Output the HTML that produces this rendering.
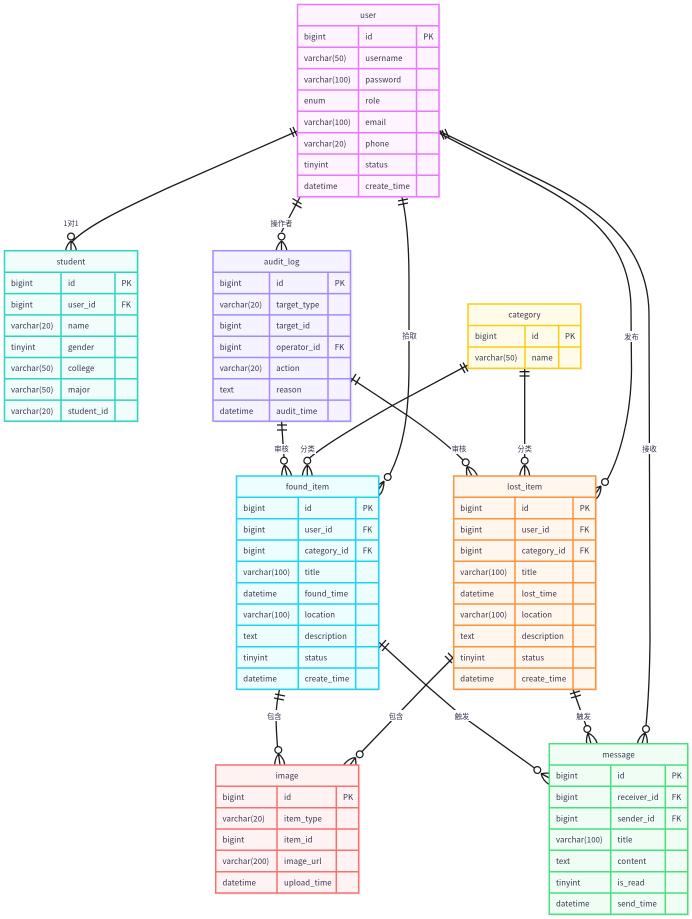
<!DOCTYPE html>
<html><head><meta charset="utf-8"><style>
html,body{margin:0;padding:0;background:#fff;width:692px;height:919px;overflow:hidden}
svg{display:block;filter:blur(.25px)}
text{font-family:"Noto Sans CJK SC","Liberation Sans",sans-serif;font-size:7.8px;fill:#38334d;letter-spacing:.1px}
.c{text-anchor:middle}
.t{font-size:7.3px;letter-spacing:0}
.e{fill:none;stroke:#1c1c1c;stroke-width:1.3}
.o{fill:#fff;stroke:#1c1c1c;stroke-width:1.25}
.b{fill:#fff}
.u{fill:#fdf4ff;stroke:#e879f9;stroke-width:1.5}
.s{fill:#f0fdfa;stroke:#2dd4bf;stroke-width:1.5}
.a{fill:#f5f3ff;stroke:#a78bfa;stroke-width:1.5}
.k{fill:#fefce8;stroke:#facc15;stroke-width:1.5}
.f{fill:#ecfeff;stroke:#22d3ee;stroke-width:1.5}
.l{fill:#fff7ed;stroke:#fb923c;stroke-width:1.5}
.i{fill:#fef2f2;stroke:#f87171;stroke-width:1.5}
.m{fill:#f0fdf4;stroke:#4ade80;stroke-width:1.5}
.sh{fill:#000;opacity:.05}
</style></head><body>
<svg width="692" height="919" viewBox="0 0 692 919" xmlns="http://www.w3.org/2000/svg">
<!-- shadows -->
<rect class="sh" x="299.500" y="6.500" width="141.500" height="192.500"/>
<rect class="sh" x="6.500" y="252.700" width="133" height="170.500"/>
<rect class="sh" x="215" y="252.700" width="137.500" height="170.500"/>
<rect class="sh" x="470" y="306" width="112.500" height="64.300"/>
<rect class="sh" x="238.500" y="478" width="142" height="213.300"/>
<rect class="sh" x="455.700" y="478" width="142" height="213.300"/>
<rect class="sh" x="217.700" y="767" width="143" height="128"/>
<rect class="sh" x="551.300" y="745.700" width="138.400" height="170.600"/>

<!-- edges -->
<path class="e" d="M297.500,131 L170,187 C120,210 85,227 71,243"/>
<path class="e" d="M300,197 L281.500,232"/>
<path class="e" d="M402,197 C406,215 409,240 409,280 L409,365 C409,420 402,450 390,474"/>
<path class="e" d="M439,133 L520,175 C585,208 631,240 631,310 L631.500,370 C631,420 618,460 607.500,479"/>
<path class="e" d="M439,131 L530,175 C600,208 649,245 649,315 L650,640 Q649.500,690 646,725.500"/>
<path class="e" d="M281.500,421 L284,457.500"/>
<path class="e" d="M468,365 L392,405.700 C350,430 325,445 309.500,458"/>
<path class="e" d="M350.500,378 L406.700,415 C430,431 450,447 463,460"/>
<path class="e" d="M524.700,368 V457"/>
<path class="e" d="M279.500,689.500 C276,705 275,715 277.500,746.500"/>
<path class="e" d="M453.700,657 L426,685 L362,751.500"/>
<path class="e" d="M378.700,642 L426,685 L462,716 L534.500,768"/>
<path class="e" d="M573,689.500 L586,725.500"/>

<!-- tick marks -->
<path class="e" d="M290,128 L294,137 M293,127 L297,136"/>
<path class="e" d="M442,130 L446,139 M445,129 L449,138 M440,130.500 L444,139.500"/>
<path class="e" d="M292.500,198.500 L301.500,204 M292.500,203 L301.500,208"/>
<path class="e" d="M398,201 L408,199 M398,205 L408,203"/>
<path class="e" d="M277,425 H287 M277,430 H287"/>
<path class="e" d="M460,364 L465,373 M463,362.500 L468,371.500"/>
<path class="e" d="M519.500,371.700 H529.500 M519.500,376 H529.500"/>
<path class="e" d="M351,382 L356,374 M355,385 L360,377"/>
<path class="e" d="M275,694 L285,696 M274,698 L284,700"/>
<path class="e" d="M445,656 L452,663 M448,653 L455,660"/>
<path class="e" d="M379,648 L386,640 M382,651 L389,643"/>
<path class="e" d="M570,694 L580,691 M571,698 L581,695"/>

<!-- crow's feet -->
<path class="e" d="M71,241 Q67,244 65.500,250.500 M71,241 V250.500 M71,241 Q75,244 76.500,250.500"/>
<path class="e" d="M281.500,241 Q277.500,244 276,250.500 M281.500,241 V250.500 M281.500,241 Q285.500,244 287,250.500"/>
<path class="e" d="M284.500,465 Q282,469 281.700,476 M284.500,465 L287,476 M284.500,465 Q290,469 291.700,476"/>
<path class="e" d="M307.300,465 Q303,469 302.300,476 M307.300,465 V476 M307.300,465 Q311.500,469 312.300,476"/>
<path class="e" d="M524.700,465 Q520.500,469 519.700,476 M524.700,465 V476 M524.700,465 Q529,469 529.700,476"/>
<path class="e" d="M467,466.500 Q466,471 467,476 M467,466.500 L472,476 M467,466.500 Q474,468 477.500,476"/>
<path class="e" d="M384,481 L379,484.500 M384,481 L379,489 M384,481 Q384,491 379,495.500"/>
<path class="e" d="M601,486 L596,488 M601,486 L596,493 M601,486 Q601,495 596,499"/>
<path class="e" d="M278.500,754 Q275,758 274.700,765 M278.500,754 L280,765 M278.500,754 Q284,758 284.700,765"/>
<path class="e" d="M355.500,757.500 Q349,758 343.500,765 M355.500,757.500 L350,765 M355.500,757.500 L356,765"/>
<path class="e" d="M541,773.500 L549.300,773 M541,773.500 L549.300,778 M541,773.500 Q543,781 549.300,784.500"/>
<path class="e" d="M588,733 Q586,738 586.700,743.700 M588,733 L591,743.700 M588,733 Q595,736 597.300,743.700"/>
<path class="e" d="M645,733 Q639,736 637.300,743.700 M645,733 L642,743.700 M645,733 Q647.500,737 647.300,743.700"/>
<circle class="o" cx="71" cy="236.500" r="3.400"/>
<circle class="o" cx="281.500" cy="236.500" r="3.400"/>
<circle class="o" cx="284" cy="460.700" r="3.400"/>
<circle class="o" cx="307.300" cy="460.700" r="3.400"/>
<circle class="o" cx="465.700" cy="462.300" r="3.400"/>
<circle class="o" cx="524.700" cy="460.700" r="3.400"/>
<circle class="o" cx="387.700" cy="477" r="3.400"/>
<circle class="o" cx="605" cy="482" r="3.400"/>
<circle class="o" cx="278.300" cy="750" r="3.400"/>
<circle class="o" cx="359.700" cy="754.300" r="3.400"/>
<circle class="o" cx="537.300" cy="770" r="3.400"/>
<circle class="o" cx="587.300" cy="729" r="3.400"/>
<circle class="o" cx="646" cy="729" r="3.400"/>

<!-- edge labels -->
<rect class="b" x="60" y="218" width="22" height="10"/><text class="c t" x="71" y="226">1对1</text>
<rect class="b" x="270" y="218" width="23" height="10"/><text class="c t" x="281.500" y="226">操作者</text>
<rect class="b" x="401" y="330" width="17" height="11"/><text class="c t" x="409.500" y="338.500">拾取</text>
<rect class="b" x="623" y="331" width="17" height="11"/><text class="c t" x="631.500" y="339.500">发布</text>
<rect class="b" x="641" y="443" width="17" height="11"/><text class="c t" x="649.500" y="451.500">接收</text>
<rect class="b" x="274" y="444" width="16" height="10"/><text class="c t" x="281.500" y="451.500">审核</text>
<rect class="b" x="300" y="444" width="16" height="10"/><text class="c t" x="307.500" y="451.500">分类</text>
<rect class="b" x="451" y="443" width="17" height="11"/><text class="c t" x="459" y="451.500">审核</text>
<rect class="b" x="517" y="444" width="16" height="10"/><text class="c t" x="524.700" y="451.500">分类</text>
<rect class="b" x="266" y="710" width="17" height="11"/><text class="c t" x="274.300" y="719">包含</text>
<rect class="b" x="388" y="710" width="17" height="11"/><text class="c t" x="396" y="719">包含</text>
<rect class="b" x="454" y="710" width="17" height="11"/><text class="c t" x="462" y="719">触发</text>
<rect class="b" x="575" y="710" width="17" height="11"/><text class="c t" x="583.500" y="719">触发</text>

<!-- user -->
<g class="u"><rect x="297.500" y="4.500" width="141.500" height="192.300"/><path d="M297.500,25.700H439M297.500,47.200H439M297.500,68.600H439M297.500,90H439M297.500,111.300H439M297.500,132.700H439M297.500,154H439M297.500,175.300H439M358.500,25.700V196.800M416.500,25.700V196.800"/></g>
<text class="c" x="368.200" y="18">user</text>
<text x="304" y="39.500">bigint</text><text x="365.300" y="39.500">id</text><text x="423.300" y="39.500">PK</text>
<text x="304" y="60.900">varchar(50)</text><text x="365.300" y="60.900">username</text>
<text x="304" y="82.300">varchar(100)</text><text x="365.300" y="82.300">password</text>
<text x="304" y="103.600">enum</text><text x="365.300" y="103.600">role</text>
<text x="304" y="125">varchar(100)</text><text x="365.300" y="125">email</text>
<text x="304" y="146.300">varchar(20)</text><text x="365.300" y="146.300">phone</text>
<text x="304" y="167.600">tinyint</text><text x="365.300" y="167.600">status</text>
<text x="304" y="189">datetime</text><text x="365.300" y="189">create_time</text>

<!-- student -->
<g class="s"><rect x="4.500" y="250.700" width="133" height="170.500"/><path d="M4.500,272.300H137.500M4.500,293.600H137.500M4.500,314.900H137.500M4.500,336.200H137.500M4.500,357.500H137.500M4.500,378.800H137.500M4.500,400.100H137.500M61,272.300V421.200M115,272.300V421.200"/></g>
<text class="c" x="71" y="264.500">student</text>
<text x="11" y="286">bigint</text><text x="68" y="286">id</text><text x="121.500" y="286">PK</text>
<text x="11" y="307.300">bigint</text><text x="68" y="307.300">user_id</text><text x="121.500" y="307.300">FK</text>
<text x="11" y="328.600">varchar(20)</text><text x="68" y="328.600">name</text>
<text x="11" y="349.900">tinyint</text><text x="68" y="349.900">gender</text>
<text x="11" y="371.200">varchar(50)</text><text x="68" y="371.200">college</text>
<text x="11" y="392.500">varchar(50)</text><text x="68" y="392.500">major</text>
<text x="11" y="413.800">varchar(20)</text><text x="68" y="413.800">student_id</text>

<!-- audit_log -->
<g class="a"><rect x="213" y="250.700" width="137.500" height="170.500"/><path d="M213,272.300H350.500M213,293.600H350.500M213,314.900H350.500M213,336.200H350.500M213,357.500H350.500M213,378.800H350.500M213,400.100H350.500M269.500,272.300V421.200M328,272.300V421.200"/></g>
<text class="c" x="281.700" y="264.500">audit_log</text>
<text x="219.700" y="286">bigint</text><text x="276.300" y="286">id</text><text x="334.700" y="286">PK</text>
<text x="219.700" y="307.300">varchar(20)</text><text x="276.300" y="307.300">target_type</text>
<text x="219.700" y="328.600">bigint</text><text x="276.300" y="328.600">target_id</text>
<text x="219.700" y="349.900">bigint</text><text x="276.300" y="349.900">operator_id</text><text x="334.700" y="349.900">FK</text>
<text x="219.700" y="371.200">varchar(20)</text><text x="276.300" y="371.200">action</text>
<text x="219.700" y="392.500">text</text><text x="276.300" y="392.500">reason</text>
<text x="219.700" y="413.800">datetime</text><text x="276.300" y="413.800">audit_time</text>

<!-- category -->
<g class="k"><rect x="468" y="304" width="112.700" height="64.300"/><path d="M468,325.500H580.700M468,347H580.700M525,325.500V368.300M558.700,325.500V368.300"/></g>
<text class="c" x="524.500" y="317.700">category</text>
<text x="475" y="339">bigint</text><text x="531.700" y="339">id</text><text x="565" y="339">PK</text>
<text x="475" y="360.500">varchar(50)</text><text x="531.700" y="360.500">name</text>

<!-- found_item -->
<g class="f"><rect x="236.500" y="476" width="142.200" height="213.300"/><path d="M236.500,497.300H378.700M236.500,518.700H378.700M236.500,540H378.700M236.500,561.300H378.700M236.500,582.700H378.700M236.500,604H378.700M236.500,625.300H378.700M236.500,646.700H378.700M236.500,668H378.700M298.300,497.300V689.300M355.700,497.300V689.300"/></g>
<text class="c" x="307.500" y="489.700">found_item</text>
<text x="243.300" y="511">bigint</text><text x="304.700" y="511">id</text><text x="362.700" y="511">PK</text>
<text x="243.300" y="532.400">bigint</text><text x="304.700" y="532.400">user_id</text><text x="362.700" y="532.400">FK</text>
<text x="243.300" y="553.700">bigint</text><text x="304.700" y="553.700">category_id</text><text x="362.700" y="553.700">FK</text>
<text x="243.300" y="575">varchar(100)</text><text x="304.700" y="575">title</text>
<text x="243.300" y="596.400">datetime</text><text x="304.700" y="596.400">found_time</text>
<text x="243.300" y="617.700">varchar(100)</text><text x="304.700" y="617.700">location</text>
<text x="243.300" y="639">text</text><text x="304.700" y="639">description</text>
<text x="243.300" y="660.400">tinyint</text><text x="304.700" y="660.400">status</text>
<text x="243.300" y="681.700">datetime</text><text x="304.700" y="681.700">create_time</text>

<!-- lost_item -->
<g class="l"><rect x="453.700" y="476" width="142" height="213.300"/><path d="M453.700,497.300H595.700M453.700,518.700H595.700M453.700,540H595.700M453.700,561.300H595.700M453.700,582.700H595.700M453.700,604H595.700M453.700,625.300H595.700M453.700,646.700H595.700M453.700,668H595.700M515,497.300V689.300M573,497.300V689.300"/></g>
<text class="c" x="524.700" y="489.700">lost_item</text>
<text x="460.300" y="511">bigint</text><text x="521.700" y="511">id</text><text x="579.700" y="511">PK</text>
<text x="460.300" y="532.400">bigint</text><text x="521.700" y="532.400">user_id</text><text x="579.700" y="532.400">FK</text>
<text x="460.300" y="553.700">bigint</text><text x="521.700" y="553.700">category_id</text><text x="579.700" y="553.700">FK</text>
<text x="460.300" y="575">varchar(100)</text><text x="521.700" y="575">title</text>
<text x="460.300" y="596.400">datetime</text><text x="521.700" y="596.400">lost_time</text>
<text x="460.300" y="617.700">varchar(100)</text><text x="521.700" y="617.700">location</text>
<text x="460.300" y="639">text</text><text x="521.700" y="639">description</text>
<text x="460.300" y="660.400">tinyint</text><text x="521.700" y="660.400">status</text>
<text x="460.300" y="681.700">datetime</text><text x="521.700" y="681.700">create_time</text>

<!-- image -->
<g class="i"><rect x="215.700" y="765" width="143" height="128"/><path d="M215.700,786.300H358.700M215.700,807.700H358.700M215.700,829H358.700M215.700,850.300H358.700M215.700,871.700H358.700M277,786.300V893M336.300,786.300V893"/></g>
<text class="c" x="287" y="778.700">image</text>
<text x="222.500" y="800">bigint</text><text x="284" y="800">id</text><text x="343" y="800">PK</text>
<text x="222.500" y="821.400">varchar(20)</text><text x="284" y="821.400">item_type</text>
<text x="222.500" y="842.700">bigint</text><text x="284" y="842.700">item_id</text>
<text x="222.500" y="864">varchar(200)</text><text x="284" y="864">image_url</text>
<text x="222.500" y="885.400">datetime</text><text x="284" y="885.400">upload_time</text>

<!-- message -->
<g class="m"><rect x="549.300" y="743.700" width="138.400" height="170.600"/><path d="M549.300,765H687.700M549.300,786.300H687.700M549.300,807.700H687.700M549.300,829H687.700M549.300,850.300H687.700M549.300,871.700H687.700M549.300,893H687.700M610.700,765V914.300M665.300,765V914.300"/></g>
<text class="c" x="618.500" y="757.400">message</text>
<text x="556" y="778.700">bigint</text><text x="617.500" y="778.700">id</text><text x="671.700" y="778.700">PK</text>
<text x="556" y="800">bigint</text><text x="617.500" y="800">receiver_id</text><text x="671.700" y="800">FK</text>
<text x="556" y="821.400">bigint</text><text x="617.500" y="821.400">sender_id</text><text x="671.700" y="821.400">FK</text>
<text x="556" y="842.700">varchar(100)</text><text x="617.500" y="842.700">title</text>
<text x="556" y="864">text</text><text x="617.500" y="864">content</text>
<text x="556" y="885.400">tinyint</text><text x="617.500" y="885.400">is_read</text>
<text x="556" y="906.700">datetime</text><text x="617.500" y="906.700">send_time</text>
</svg>
</body></html>
